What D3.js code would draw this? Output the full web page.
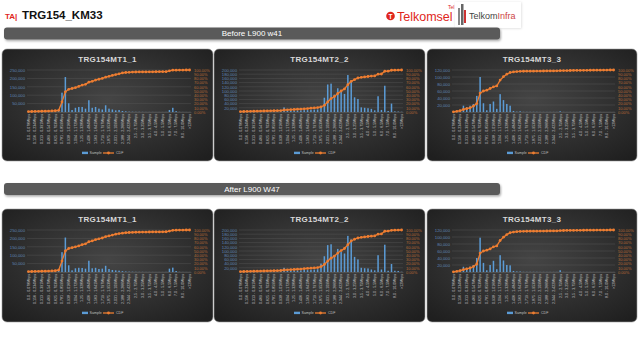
<!DOCTYPE html>
<html><head><meta charset="utf-8">
<script src="https://cdn.jsdelivr.net/npm/d3@7"></script>
<style>html,body{margin:0;padding:0;background:#fff;}svg{display:block;}</style>
</head><body>
<svg id="c" width="638" height="359"></svg>
<script>
const categories = ["0.0 - 0.078Mbps","0.078 - 0.156Mbps","0.156 - 0.234Mbps","0.234 - 0.313Mbps","0.313 - 0.391Mbps","0.391 - 0.469Mbps","0.469 - 0.547Mbps","0.547 - 0.625Mbps","0.625 - 0.703Mbps","0.703 - 0.781Mbps","0.781 - 0.859Mbps","0.859 - 0.938Mbps","0.938 - 1.016Mbps","1.016 - 1.094Mbps","1.094 - 1.172Mbps","1.172 - 1.25Mbps","1.25 - 1.328Mbps","1.328 - 1.406Mbps","1.406 - 1.484Mbps","1.484 - 1.563Mbps","1.563 - 1.641Mbps","1.641 - 1.719Mbps","1.719 - 1.797Mbps","1.797 - 1.875Mbps","1.875 - 1.953Mbps","1.953 - 2.031Mbps","2.031 - 2.109Mbps","2.109 - 2.188Mbps","2.188 - 2.266Mbps","2.266 - 2.344Mbps","2.344 - 2.422Mbps","2.422 - 2.5Mbps","2.5 - 2.75Mbps","2.75 - 3.0Mbps","3.0 - 3.25Mbps","3.25 - 3.5Mbps","3.5 - 3.75Mbps","3.75 - 4.0Mbps","4.0 - 4.5Mbps","4.5 - 5.0Mbps","5.0 - 5.5Mbps","5.5 - 6.0Mbps","6.0 - 6.5Mbps","6.5 - 7.0Mbps","7.0 - 7.5Mbps","7.5 - 8.0Mbps","8.0 - 10.0Mbps","10.0 - 12.0Mbps",">12Mbps"];

const mt1BeforeSamples = [0,0,0,0,500,500,1000,1000,2000,5000,115000,208000,52000,12000,25000,30000,30000,20000,70000,25000,30000,20000,15000,40000,20000,15000,10000,12000,6000,4000,2000,1500,1000,1000,800,500,500,500,300,300,300,500,12000,25000,5000,1000,500,300,200];
const mt1BeforeCdf = [1,1.2,1.4,1.6,1.8,2,2.2,2.5,3,4,24,48,54,56,58,61,64,66,71,73,76,78,80,83,85,87,89,91,93,94,94.5,95,95.2,95.3,95.4,95.5,95.6,95.7,95.8,95.9,96,96.1,98,99.5,99.7,99.8,99.9,100,100];
const mt2BeforeSamples = [1000,1000,1500,1500,2000,2000,2500,2500,3000,3000,3500,4000,4000,22000,5000,6000,6000,7000,8000,9000,9000,10000,11000,12000,25000,68000,131000,135000,83000,113000,98000,86000,176000,150000,70000,62000,22000,20000,18000,15000,8000,75000,10000,125000,5000,40000,3000,2000,1000];
const mt2BeforeCdf = [1,1.2,1.4,1.6,1.8,2,2.2,2.4,2.6,2.8,3,3.2,3.5,4.8,5.2,5.6,6,6.5,7,7.6,8.2,9,9.8,10.6,12,16,24,32,37,44,50,55,65,73,77,81,82.5,83.5,84.5,85.5,86,90,90.5,97,97.3,99.4,99.6,99.8,100];
const mt3BeforeSamples = [0,500,6000,18000,14000,18000,23000,46000,100000,25000,5000,23000,30000,9000,51000,34000,23000,18000,3000,1000,2000,500,500,500,500,500,300,300,300,300,300,300,2000,300,200,200,200,200,200,200,200,200,200,200,200,100,100,100,100];
const mt3BeforeCdf = [0.5,1.5,3,6,8,10,14,20,45,50,52,56,60,62,76,84,90,94,95.5,96.3,96.8,97,97.1,97.2,97.3,97.4,97.5,97.6,97.7,97.8,97.9,98,98.5,98.6,98.7,98.8,98.9,99,99.1,99.2,99.3,99.4,99.5,99.6,99.7,99.8,99.9,100,100];

const mt1AfterSamples = [0,0,0,0,500,800,1000,1500,2000,6000,118000,205000,40000,10000,22000,25000,24000,20000,67000,22000,25000,18000,20000,37000,18000,12000,10000,8000,5000,3000,2000,1500,1000,800,800,500,500,400,300,300,300,600,20000,26000,6000,1000,500,300,200];
const mt1AfterCdf = [1,1.2,1.4,1.6,1.8,2,2.2,2.5,3,4.5,26,50,56,58,60,62,65,67,72,74,77,79,81,84,86,88,90,91.5,92.5,93.5,94,94.3,94.6,94.8,95,95.1,95.2,95.3,95.4,95.5,95.6,95.8,97.5,99.3,99.6,99.8,99.9,100,100];
const mt2AfterSamples = [1000,1000,1500,2000,2000,2500,2500,3000,3000,3500,4000,4000,5000,20000,5000,6000,7000,7000,8000,12000,9000,10000,11000,13000,40000,75000,128000,132000,80000,110000,95000,88000,172000,155000,72000,60000,20000,18000,17000,12000,8000,80000,12000,130000,6000,38000,6000,5000,1000];
const mt2AfterCdf = [1,1.2,1.4,1.6,1.8,2,2.2,2.4,2.6,2.8,3,3.2,3.6,4.8,5.2,5.6,6,6.5,7,7.8,8.4,9,9.8,10.6,13,18,26,33,38,45,51,56,65,74,78,81,82.5,83.5,84.5,85.2,86,90,90.6,97,97.4,99.3,99.6,99.9,100];
const mt3AfterSamples = [0,1000,6000,15000,12000,15000,20000,40000,98000,26000,5000,20000,32000,8000,48000,33000,20000,19000,3000,1500,1500,500,500,500,500,500,300,300,300,300,300,300,5000,300,200,200,200,200,200,200,200,200,200,200,200,100,100,100,100];
const mt3AfterCdf = [0.5,1.5,3,5.5,7.5,9.5,13,19,45,50,52,55,60,62,75,83,89,93.5,95,96,96.5,96.8,97,97.1,97.2,97.3,97.4,97.5,97.6,97.7,97.8,97.9,98.7,98.8,98.9,99,99.1,99.2,99.3,99.4,99.5,99.6,99.7,99.75,99.8,99.85,99.9,100,100];

const mt1Ticks = [0,50000,100000,150000,200000,250000];
const mt2Ticks = [0,20000,40000,60000,80000,100000,120000,140000,160000,180000,200000];
const mt3Ticks = [0,20000,40000,60000,80000,100000,120000];
const cdfTicks = [0,10,20,30,40,50,60,70,80,90,100];

const slideTitle = "TRG154_KM33";
const sectionTitles = ["Before L900 w41","After L900 W47"];
const chartTitles = ["TRG154MT1_1","TRG154MT2_2","TRG154MT3_3"];
const legendLabels = ["Sample","CDF"];

const svg = d3.select("#c");
const FONT = "'Liberation Sans', Arial, sans-serif";
const defs = svg.append("defs");
const rg = defs.append("radialGradient").attr("id","bg").attr("cx","50%").attr("cy","45%").attr("r","70%");
rg.append("stop").attr("offset","0%").attr("stop-color","#454545");
rg.append("stop").attr("offset","100%").attr("stop-color","#1f1f1f");
const sh = defs.append("filter").attr("id","sh").attr("x","-5%").attr("y","-30%").attr("width","110%").attr("height","180%");
sh.append("feDropShadow").attr("dx",1).attr("dy",1.5).attr("stdDeviation",1).attr("flood-color","#000").attr("flood-opacity",0.35);
const sh2 = defs.append("filter").attr("id","sh2").attr("x","-10%").attr("y","-20%").attr("width","120%").attr("height","140%");
sh2.append("feDropShadow").attr("dx",0.5).attr("dy",0.5).attr("stdDeviation",0.8).attr("flood-color","#000").attr("flood-opacity",0.15);

svg.append("rect").attr("width",638).attr("height",359).attr("fill","#fff");

// slide header
svg.append("text").attr("x",5).attr("y",18.5).attr("font-family",FONT).attr("font-weight","bold")
  .attr("font-size",8).attr("fill","#e0261b").text("TA|");
svg.append("text").attr("x",22).attr("y",19).attr("font-family",FONT).attr("font-weight","bold")
  .attr("font-size",11.5).attr("fill","#111").text(slideTitle);

// logos
svg.append("circle").attr("cx",390.5).attr("cy",16).attr("r",4.3).attr("fill","#e0261b");
svg.append("text").attr("x",390.5).attr("y",18.6).attr("text-anchor","middle").attr("font-family",FONT)
  .attr("font-weight","bold").attr("font-size",6.5).attr("fill","#fff").text("T");
svg.append("text").attr("x",397).attr("y",20.5).attr("font-family",FONT).attr("font-size",12.5)
  .attr("fill","#e0261b").text("Telkomsel");
svg.append("text").attr("x",448).attr("y",9).attr("font-family",FONT).attr("font-size",5)
  .attr("fill","#e0261b").text("Tel");
svg.append("rect").attr("x",455).attr("y",2).attr("width",66).attr("height",26).attr("fill","#fff")
  .attr("filter","url(#sh2)");
[[458,8,2,17,"#888"],[461,4,2.5,21,"#666"],[464,10,2,13,"#c33"]].forEach(b=>{
  svg.append("rect").attr("x",b[0]).attr("y",b[1]).attr("width",b[2]).attr("height",b[3]).attr("fill",b[4]);
});
svg.append("text").attr("x",469).attr("y",19).attr("font-family",FONT).attr("font-size",9)
  .attr("fill","#444").text("Telkom").append("tspan").attr("fill","#c44").text("Infra");

// section bars
function sectionBar(y, label){
  svg.append("rect").attr("x",4).attr("y",y).attr("width",496).attr("height",12).attr("rx",3)
    .attr("fill","#5a5a5a").attr("filter","url(#sh)");
  svg.append("text").attr("x",252).attr("y",y+8.8).attr("text-anchor","middle").attr("font-family",FONT)
    .attr("font-size",8).attr("fill","#fff").text(label);
}
sectionBar(27.5, sectionTitles[0]);
sectionBar(183, sectionTitles[1]);

const fmtL = d3.format(",");
const fmtR = v => d3.format(".2f")(v) + "%";

function drawChart(px, py, pw, ph, title, samples, cdf, ticks){
  const g = svg.append("g").attr("transform",`translate(${px},${py})`);
  g.append("rect").attr("width",pw).attr("height",ph).attr("rx",5).attr("fill","url(#bg)")
    .attr("stroke","#9a9a9a").attr("stroke-width",0.6);
  g.append("text").attr("x",pw/2).attr("y",13).attr("text-anchor","middle").attr("font-family",FONT)
    .attr("font-weight","bold").attr("font-size",8).attr("letter-spacing",0.3).attr("fill","#d9d9d9").text(title);
  const L = 25, R = pw - 22, T = 21, B = 63;
  const x = d3.scaleBand().domain(categories).range([L,R]).paddingInner(0.55).paddingOuter(0.2);
  const y = d3.scaleLinear().domain([0, ticks[ticks.length-1]]).range([B,T]);
  const y2 = d3.scaleLinear().domain([0,100]).range([B,T]);
  g.append("g").selectAll("line").data(ticks).join("line")
    .attr("x1",L).attr("x2",R).attr("y1",d=>y(d)).attr("y2",d=>y(d))
    .attr("stroke","#5a5a5a").attr("stroke-width",0.4);
  const la = g.append("g").attr("transform",`translate(${L},0)`)
    .call(d3.axisLeft(y).tickValues(ticks.filter(d=>d>0)).tickFormat(fmtL).tickSize(0).tickPadding(2));
  la.select(".domain").remove();
  la.selectAll("text").attr("font-family",FONT).attr("font-size",4.2).attr("fill","#5f86b3");
  const ra = g.append("g").attr("transform",`translate(${R},0)`)
    .call(d3.axisRight(y2).tickValues(cdfTicks).tickFormat(fmtR).tickSize(0).tickPadding(3));
  ra.select(".domain").remove();
  ra.selectAll("text").attr("font-family",FONT).attr("font-size",4).attr("fill","#b66a36");
  g.append("g").selectAll("rect").data(samples).join("rect")
    .attr("x",(d,i)=>x(categories[i])).attr("width",x.bandwidth())
    .attr("y",d=>y(d)).attr("height",d=>B-y(d)).attr("fill","#5b9bd5");
  const xa = g.append("g").attr("transform",`translate(0,${B})`)
    .call(d3.axisBottom(x).tickValues(categories.filter((c,i)=>i%2===0)).tickSize(0).tickPadding(0));
  xa.select(".domain").attr("stroke","#6a6a6a").attr("stroke-width",0.4);
  xa.selectAll("text").attr("font-family",FONT).attr("font-size",3.6).attr("fill","#c8c8c8")
    .attr("transform","rotate(-90)").attr("text-anchor","end").attr("dx",-2).attr("dy",1.3).attr("y",0);
  const line = d3.line().x((d,i)=>x(categories[i])+x.bandwidth()/2).y(d=>y2(d));
  g.append("path").datum(cdf).attr("d",line).attr("fill","none").attr("stroke","#ed7d31").attr("stroke-width",1.3);
  g.append("g").selectAll("circle").data(cdf).join("circle")
    .attr("cx",(d,i)=>x(categories[i])+x.bandwidth()/2).attr("cy",d=>y2(d)).attr("r",1.4).attr("fill","#ed7d31");
  const ly = 104;
  g.append("rect").attr("x",80).attr("y",ly-1.3).attr("width",6).attr("height",2.4).attr("fill","#5b9bd5");
  g.append("text").attr("x",87.5).attr("y",ly+1.3).attr("font-family",FONT).attr("font-size",3.6).attr("fill","#bfbfbf").text(legendLabels[0]);
  g.append("line").attr("x1",101).attr("x2",112).attr("y1",ly).attr("y2",ly).attr("stroke","#ed7d31").attr("stroke-width",1.3);
  g.append("circle").attr("cx",106.5).attr("cy",ly).attr("r",1.4).attr("fill","#ed7d31");
  g.append("text").attr("x",114).attr("y",ly+1.3).attr("font-family",FONT).attr("font-size",3.6).attr("fill","#bfbfbf").text(legendLabels[1]);
}

const cols = [[2,211],[214,211],[427,210]];
const rows = [[49,112],[209,113]];
const beforeSet = [[mt1BeforeSamples,mt1BeforeCdf,mt1Ticks],[mt2BeforeSamples,mt2BeforeCdf,mt2Ticks],[mt3BeforeSamples,mt3BeforeCdf,mt3Ticks]];
const afterSet = [[mt1AfterSamples,mt1AfterCdf,mt1Ticks],[mt2AfterSamples,mt2AfterCdf,mt2Ticks],[mt3AfterSamples,mt3AfterCdf,mt3Ticks]];
[beforeSet, afterSet].forEach((set, r) => {
  set.forEach((s, c) => {
    drawChart(cols[c][0], rows[r][0], cols[c][1], rows[r][1], chartTitles[c], s[0], s[1], s[2]);
  });
});
</script>
</body></html>
